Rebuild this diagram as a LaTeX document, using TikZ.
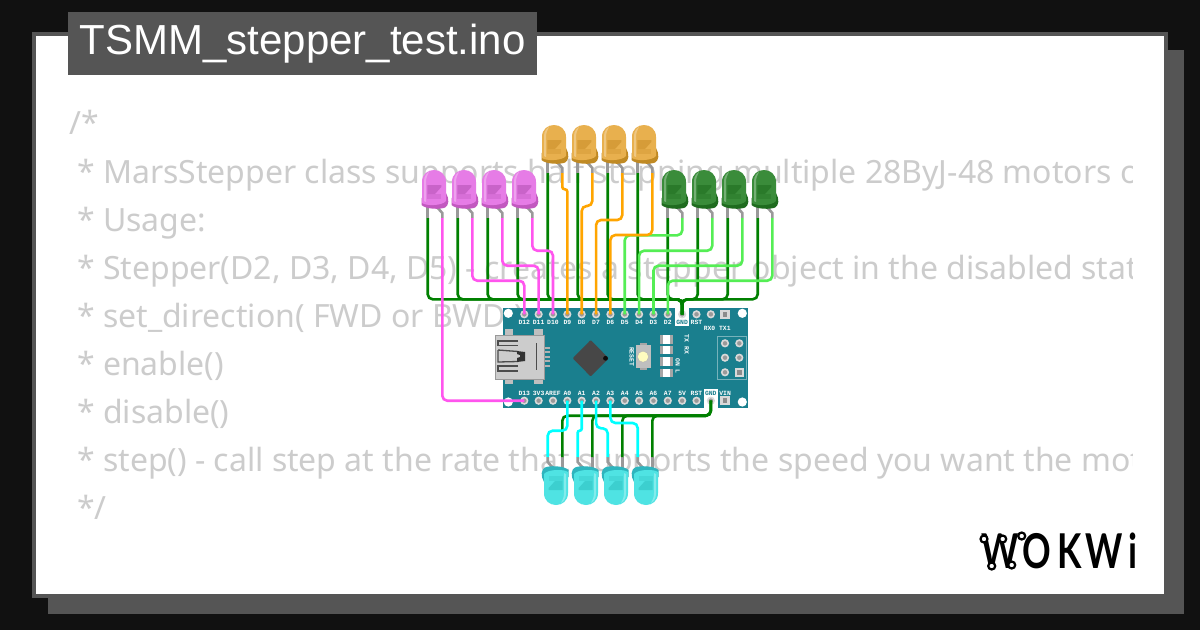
\documentclass[tikz,border=0pt]{standalone}
\usepackage{fontspec}
\usepackage{tikz}
\setmainfont{Liberation Sans}
\newfontfamily\codefont{Noto Sans}
\newfontfamily\logofont{Lato}
\newfontfamily\silkfont{Liberation Mono}
\definecolor{pagebg}{HTML}{111111}
\definecolor{framegray}{HTML}{555555}
\definecolor{codegray}{HTML}{CCCCCC}
\definecolor{boardteal}{HTML}{1A7F8E}
\definecolor{wiredark}{HTML}{008000}
\definecolor{wirelime}{HTML}{55EE55}
\definecolor{wiremag}{HTML}{FF55EE}
\definecolor{wireorange}{HTML}{FFA500}
\definecolor{wirecyan}{HTML}{00FFFF}
\definecolor{ledmag}{HTML}{E67CE6}
\definecolor{ledmagrim}{HTML}{C258C0}
\definecolor{ledmagcup}{HTML}{C963C9}
\definecolor{ledora}{HTML}{E8B04E}
\definecolor{ledorarim}{HTML}{C08A24}
\definecolor{ledoracup}{HTML}{D69C38}
\definecolor{ledgrn}{HTML}{3A8C3A}
\definecolor{ledgrnrim}{HTML}{1F6B1F}
\definecolor{ledgrncup}{HTML}{2A7A2A}
\definecolor{ledcya}{HTML}{4FE3E3}
\definecolor{ledcyarim}{HTML}{2EB5BE}
\definecolor{ledcyacup}{HTML}{3CCFCF}
\tikzset{
    codeline/.style={anchor=base west, inner sep=0pt, text=codegray, font=\codefont\fontsize{32}{32}\selectfont},
    wire/.style={line width=2.6pt, rounded corners=5pt},
    pinlabel/.style={inner sep=0pt, text=white, font=\silkfont\bfseries\fontsize{6.4}{6.4}\selectfont},
    boardpin/.style={circle, fill=black!40, draw=black!15, line width=1.6pt, minimum size=6.5pt, inner sep=0pt},
    logodot/.style={circle, fill=white, draw=black, line width=2.2pt, minimum size=7pt, inner sep=0pt},
    usbline/.style={black!70, line width=1.3pt},
    pics/ledbulb/.style n args={3}{code={
        \draw[black!40, line width=2.6pt] (-6.3,36) -- (-6.3,48) coordinate (-K);
        \draw[black!40, line width=2.6pt] (2,36) -- (8.3,43) -- (8.3,48) coordinate (-A);
        \fill[#2] (-12.5,28) -- (-12.5,35) .. controls (-8,39.5) and (7,39.5) .. (11,37.5) .. controls (15,35.5) and (15.5,29) .. (12,23) -- cycle;
        \fill[#1] (-12,33) -- (-12,12) .. controls (-12,-4) and (12,-4) .. (12,12) -- (12,31) .. controls (8,36) and (-8,36) .. cycle;
        \fill[#3] (-6.7,15) -- (7.3,15) -- (7.3,17) -- (1,24) -- (-6.7,24) -- cycle;
        \fill[#3, opacity=.5] (-6.7,24) rectangle (7.3,29);
        \fill[white, opacity=.3] (-10,31) -- (-10,11) .. controls (-10,6) and (-7,3) .. (-5,2) .. controls (-7,6) and (-8,8) .. (-8,12) -- (-8,32) -- cycle;
    }},
}

\begin{document}
\begin{tikzpicture}[x=1pt, y=-1pt]
        \useasboundingbox (0,0) rectangle (1200,630);
        \fill[pagebg] (0,0) rectangle (1200,630);
        \fill[framegray] (48,50) rectangle (1184,614);
        \fill[framegray] (32,32) rectangle (1168,598);
        \fill[white] (36,36) rectangle (1164,594);
        \node[fill=framegray, text=white, anchor=north west, minimum width=469pt, minimum height=63pt, inner sep=0pt, font=\fontsize{42}{42}\selectfont] (title) at (68,12) {TSMM\_stepper\_test.ino};

        \begin{scope}
        \clip (68,90) rectangle (1132,540);
        \node[codeline] (line1) at (69,134) {/*};
        \node[codeline] (line2) at (77,183) {* MarsStepper class supports half stepping multiple 28ByJ-48 motors on};
        \node[codeline] (line3) at (77,231) {* Usage:};
        \node[codeline] (line4) at (77,279) {* Stepper(D2, D3, D4, D5) - creates a stepper object in the disabled state};
        \node[codeline] (line5) at (77,327) {* set\_direction( FWD or BWD )};
        \node[codeline] (line6) at (77,375) {* enable()};
        \node[codeline] (line7) at (77,423) {* disable()};
        \node[codeline] (line8) at (77,471) {* step() - call step at the rate that supports the speed you want the motor};
        \node[codeline] (line9) at (77,519) {*/};
        \end{scope}

        \fill[boardteal] (503.3,307.5) rectangle (748.3,407.7);
        \fill[white] (675,307) rectangle (689,326);
        \fill[white] (703.5,389) rectangle (718,408);
        \foreach \hx/\hy in {508.3/313.3, 742.3/313.3, 508.3/402, 742.3/402}
            \fill[white] (\hx,\hy) circle (4.6);

        \foreach \lbl [count=\i from 0] in {D12,D11,D10,D9,D8,D7,D6,D5,D4,D3,D2,GND,RST,RX0,TX1} {
            \node[boardpin] (pt\lbl) at (524.3+14.35*\i,314.3) {};
        }
        \foreach \lbl [count=\i from 0] in {D12,D11,D10,D9,D8,D7,D6,D5,D4,D3,D2}
            \node[pinlabel] at (524.3+14.35*\i,322.4) {\lbl};
        \node[pinlabel] at (696.5,322.4) {RST};
        \node[pinlabel, text=boardteal] at (682.1,322.4) {GND};
        \node[pinlabel] at (717.2,328.5) {RX0 TX1};
        \foreach \lbl [count=\i from 0] in {D13,3V3,AREF,A0,A1,A2,A3,A4,A5,A6,A7,5V,RST,GND,VIN} {
            \node[boardpin] (pb\lbl) at (524.3+14.35*\i,400.7) {};
        }
        \foreach \lbl [count=\i from 0] in {D13,3V3,AREF,A0,A1,A2,A3,A4,A5,A6,A7,5V,RST}
            \node[pinlabel] at (524.3+14.35*\i,393) {\lbl};
        \node[pinlabel, text=boardteal] at (710.8,393) {GND};
        \node[pinlabel] at (725.1,393) {VIN};
        \fill[black!15] (720.4,309.6) rectangle (729.8,319);
        \fill[black!45] (722.8,312) rectangle (727.4,316.6);
        \fill[black!15] (720.4,396) rectangle (729.8,405.4);
        \fill[black!45] (722.8,398.4) rectangle (727.4,403);

        \draw[boardteal!60!white, line width=.8pt] (717.7,336) rectangle (746.7,379.3);
        \foreach \py in {343.3,357.7,372.3} {
            \node[boardpin] at (725,\py) {};
        }
        \foreach \py in {343.3,357.7} {
            \node[boardpin] at (739.3,\py) {};
        }
        \fill[black!15] (734.6,367.6) rectangle (744,377);
        \fill[black!45] (737,370) rectangle (741.6,374.6);

        \fill[black!72, rounded corners=1pt] (590.7,340) -- (608.7,358.3) -- (590.7,376.5) -- (572.7,358.3) -- cycle;
        \fill[black!95] (605.5,358.3) circle (2.4);

        \fill[black!35] (640,343) rectangle (647,369.7);
        \fill[black!25] (635.7,345) rectangle (650.7,367.7);
        \fill[yellow!25!white, draw=black!30] (643,356.7) circle (5.6);
        \node[pinlabel, rotate=-90] at (631.7,356.7) {RESET};

        \foreach \ly in {339.7,350,361.5,373} {
            \fill[black!35] (660,\ly-4.3) rectangle (673.3,\ly+4.3);
            \fill[white] (663,\ly-4.3) rectangle (670,\ly+4.3);
        }
        \node[pinlabel, rotate=-90] at (686.7,344.5) {TX RX};
        \node[pinlabel, rotate=-90] at (677.7,366) {ON L};

        \foreach \uy in {348,352.3,357,361.3,366}
            \draw[black!30, line width=1.8pt] (544,\uy) -- (550,\uy);
        \fill[black!25] (505,329) rectangle (513,384);
        \fill[black!25] (534,329) rectangle (543,384);
        \fill[black!20, draw=black!40] (495,335) rectangle (544,379);
        \draw[usbline] (518,341) -- (498,341) -- (498,345.5) -- (518,345.5);
        \draw[usbline] (518,351.5) -- (498,350) (518,361.5) -- (498,362) -- (498,350);
        \fill[black!80] (517,351) -- (525,352) -- (525,361) -- (517,362) -- (517,358) -- (520,357) -- (520,355) -- (517,354) -- cycle;
        \draw[usbline] (518,366) -- (498,366) -- (498,371) -- (518,371);
        \draw[usbline] (536.7,343) -- (536.7,370);

        \foreach \n/\cx in {lp1/434,lp2/464,lp3/494,lp4/524} {
            \pic (\n) at (\cx,170) {ledbulb={ledmag}{ledmagrim}{ledmagcup}};
        }
        \foreach \n/\cx in {op1/554,op2/584,op3/614,op4/644} {
            \pic (\n) at (\cx,125) {ledbulb={ledora}{ledorarim}{ledoracup}};
        }
        \foreach \n/\cx in {gp1/674,gp2/704,gp3/734,gp4/764} {
            \pic (\n) at (\cx,170) {ledbulb={ledgrn}{ledgrnrim}{ledgrncup}};
        }
        \foreach \n/\cx in {cp1/556,cp2/586,cp3/616,cp4/646} {
            \pic[rotate=180] (\n) at (\cx,505) {ledbulb={ledcya}{ledcyarim}{ledcyacup}};
        }

        \coordinate (gndtrunk) at (682.1,299.3);
        \coordinate (cyantrunk) at (710.8,415.7);
        \foreach \n in {lp1,lp2,lp3,lp4,op1,op2,op3,op4,gp1,gp2,gp3,gp4}
            \draw[wire, wiredark] (\n-K) |- (gndtrunk) -- (ptGND.center);
        \foreach \n in {cp1,cp2,cp3,cp4}
            \draw[wire, wiredark] (\n-K) |- (cyantrunk) -- (pbGND.center);

        \draw[wire, wirelime] (gp1-A) -- ++(0,17.3) -| (ptD5.center);
        \draw[wire, wirelime] (gp2-A) -- ++(0,32.7) -| (ptD4.center);
        \draw[wire, wirelime] (gp3-A) -- ++(0,47.7) -| (ptD3.center);
        \draw[wire, wirelime] (gp4-A) -- ++(0,62.7) -| (ptD2.center);

        \draw[wire, wireorange, rounded corners=2.4pt] (op1-A) -- ++(0,16.3) -| (ptD9.center);
        \draw[wire, wireorange] (op2-A) -- ++(0,33) -| (ptD8.center);
        \draw[wire, wireorange] (op3-A) -- ++(0,47) -| (ptD7.center);
        \draw[wire, wireorange] (op4-A) -- ++(0,62) -| (ptD6.center);

        \draw[wire, wiremag] (lp1-A) |- (pbD13.center);
        \draw[wire, wiremag] (lp2-A) -- ++(0,62.7) -| (ptD12.center);
        \draw[wire, wiremag] (lp3-A) -- ++(0,47.7) -| (ptD11.center);
        \draw[wire, wiremag] (lp4-A) -- ++(0,32.7) -| (ptD10.center);

        \draw[wire, wirecyan] (cp1-A) -- ++(0,-26.3) -| (pbA0.center);
        \draw[wire, wirecyan, rounded corners=2pt] (cp2-A) -- ++(0,-26.3) -| (pbA1.center);
        \draw[wire, wirecyan] (pbA2.center) -- ++(0,27.6) -| (cp3-A);
        \draw[wire, wirecyan] (pbA3.center) -- ++(0,22.3) -| (cp4-A);

        \node[anchor=base west, inner sep=0pt, xscale=.74, transform shape, font=\logofont\bfseries\fontsize{48}{48}\selectfont] (logo) at (981,568.5) {W\kern5pt O\kern9pt K\kern5pt W\kern8pt i};
        \node[logodot] (logoa) at (984,539) {};
        \node[logodot] (logob) at (1002.7,539) {};
        \node[logodot] (logoc) at (1021.7,536) {};
        \node[logodot] (logod) at (991.7,566) {};
        \node[logodot] (logoe) at (1011.7,565) {};
    \end{tikzpicture}
\end{document}
